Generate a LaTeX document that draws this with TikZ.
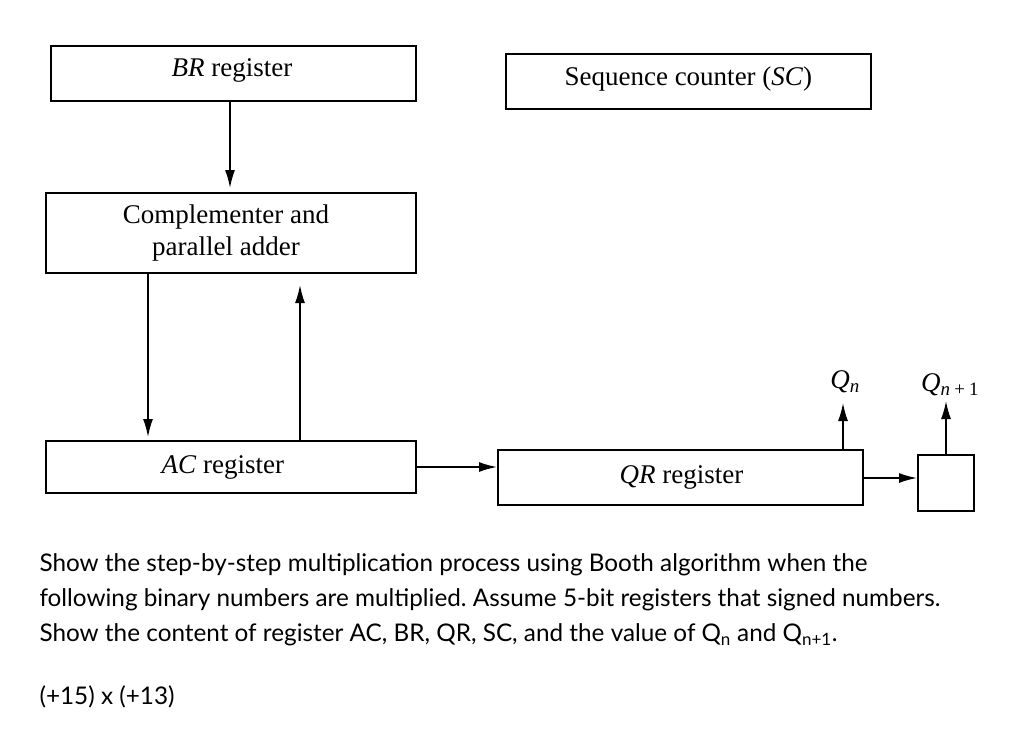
\documentclass[tikz,border=0pt]{standalone}
\usepackage{fontspec}
\setmainfont{Liberation Serif}
\newfontfamily\lato{Lato}
\usetikzlibrary{arrows.meta}
\begin{document}
\frenchspacing
\begin{tikzpicture}[x=1pt,y=-1pt,
  reg/.style={draw,line width=1.8pt,inner sep=0pt},
  lbl/.style={font=\fontsize{27}{30}\selectfont,anchor=west},
  arr/.style={line width=1.6pt,-{Latex[length=18pt,width=10pt]}},
  txt/.style={font=\lato\fontsize{24.3}{28}\selectfont,anchor=west}]
\useasboundingbox[fill=white] (0,0) rectangle (1024,728);
\node[reg,minimum width=365pt,minimum height=55pt,anchor=north west] (br) at (50,45) {};
\node[lbl] at (168,70) {\textit{BR} register};
\node[reg,minimum width=365pt,minimum height=55pt,anchor=north west] (sc) at (505,53) {};
\node[lbl] at (561,79) {Sequence counter (\textit{SC})};
\node[reg,minimum width=370pt,minimum height=80pt,anchor=north west] (cp) at (45,192) {};
\node[font=\fontsize{27}{32}\selectfont,align=center] at (226,233) {Complementer and\\parallel adder};
\node[reg,minimum width=370pt,minimum height=52pt,anchor=north west] (ac) at (45,440) {};
\node[lbl] at (158,467) {\textit{AC} register};
\node[reg,minimum width=365pt,minimum height=55pt,anchor=north west] (qr) at (497,449) {};
\node[lbl] at (616,477) {\textit{QR} register};
\node[reg,minimum width=56pt,minimum height=56pt,anchor=north west] (qb) at (917,454) {};
\draw[arr] (230,100) -- (230,188);
\draw[arr] (148,272) -- (148,437);
\draw[arr] (300,440) -- (300,285);
\draw[arr] (415,467) -- (497,467);
\draw[arr] (862,478) -- (917,478);
\draw[arr] (843,449) -- (843,403);
\draw[arr] (946,454) -- (946,401);
\node[font=\fontsize{27}{30}\selectfont] (qn) at (845,382) {\textit{Q\textsubscript{n}}};
\node[font=\fontsize{27}{30}\selectfont] (qn1) at (950,385) {\textit{Q\textsubscript{n\,+\,\upshape1}}};
\node[txt] at (36,565) {Show the step-by-step multiplication process using Booth algorithm when the};
\node[txt] at (36,600) {following binary numbers are multiplied. Assume 5-bit registers that signed numbers.};
\node[txt] at (36,635) {Show the content of register AC, BR, QR, SC, and the value of Q\textsubscript{n} and Q\textsubscript{n+1}.};
\node[txt] at (36,697) {(+15) x (+13)};
\end{tikzpicture}
\end{document}
